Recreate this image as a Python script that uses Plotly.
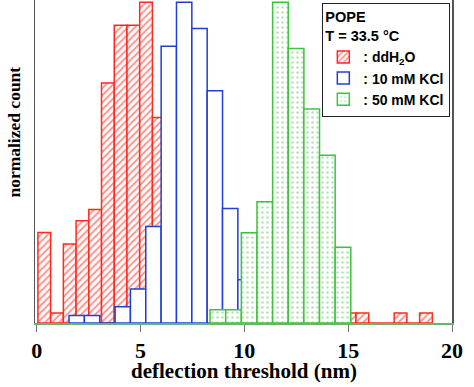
import plotly.graph_objects as go

# ---- data (normalized counts per bin) ----
red_start, red_width = 0.06, 0.6127
red_values = [0.282, 0.031, 0.246, 0.319, 0.354, 0.748, 0.928, 0.928, 1.0, 0.641,
              0.22, 0.06, 0, 0, 0, 0, 0, 0, 0, 0, 0, 0, 0, 0,
              0.031, 0.031, 0, 0, 0.031, 0, 0.031]

blue_start, blue_width = 1.56, 0.739
blue_values = [0.023, 0.023, 0, 0.051, 0.106, 0.301, 0.863, 1.0, 0.918, 0.724, 0.357, 0.135]

green_start, green_width = 8.35, 0.753
green_values = [0.0415, 0.0415, 0.281, 0.378, 1.0, 0.856, 0.667, 0.523, 0.236]

series_names = [": ddH<sub>2</sub>O", ": 10 mM KCl", ": 50 mM KCl"]
x_ticks = [0, 5, 10, 15, 20]

RED = "#ff2a1f"
BLUE = "#1f3fd6"
GREEN = "#3cc43c"


def centers(start, width, n):
    return [start + width * (i + 0.5) for i in range(n)]


fig = go.Figure()

fig.add_trace(go.Bar(
    x=centers(red_start, red_width, len(red_values)), y=red_values, width=red_width,
    name=series_names[0],
    marker=dict(color="white", line=dict(color=RED, width=1.5),
                pattern=dict(shape="/", fgcolor=RED, bgcolor="white", size=5,
                             solidity=0.4, fillmode="overlay")),
))
fig.add_trace(go.Bar(
    x=centers(blue_start, blue_width, len(blue_values)), y=blue_values, width=blue_width,
    name=series_names[1],
    marker=dict(color="white", line=dict(color=BLUE, width=1.5)),
))
fig.add_trace(go.Bar(
    x=centers(green_start, green_width, len(green_values)), y=green_values, width=green_width,
    name=series_names[2],
    marker=dict(color="white", line=dict(color=GREEN, width=1.5),
                pattern=dict(shape=".", fgcolor="#66cc66", bgcolor="white", size=5,
                             solidity=0.2, fillmode="overlay")),
))

fig.update_layout(
    width=474, height=387,
    margin=dict(l=35, r=22, t=0, b=64, autoexpand=False),
    barmode="overlay",
    bargap=0,
    hovermode=False,
    plot_bgcolor="white", paper_bgcolor="white",
    showlegend=True,
    legend=dict(
        x=0.996, y=0.992, xanchor="right", yanchor="top",
        bgcolor="white", bordercolor="#222", borderwidth=1,
        font=dict(family="Liberation Sans", size=14, color="black", weight="bold"),
        title=dict(text="POPE<br>T = 33.5 °C",
                   font=dict(family="Liberation Sans", size=14.5, color="black", weight="bold")),
        tracegroupgap=0, itemwidth=30,
    ),
    xaxis=dict(
        range=[-0.08, 20], tickvals=x_ticks, ticks="outside", ticklen=7,
        tickcolor="#777", tickwidth=1, automargin=False,
        showline=True, linecolor="#6fb06f", linewidth=1.5,
        showgrid=False, zeroline=False,
        tickfont=dict(family="Liberation Serif", size=22, color="black", weight="bold"),
    ),
    yaxis=dict(
        range=[0, 1.007], showticklabels=False, ticks="", showgrid=False, zeroline=False,
        showline=True, mirror=True, linecolor="#555", linewidth=1.5, automargin=False,
    ),
    annotations=[
        dict(text="normalized count", textangle=-90, xref="paper", yref="paper",
             x=-0.05, y=0.59, xanchor="center", yanchor="middle", showarrow=False,
             font=dict(family="Liberation Serif", size=17.5, color="black", weight="bold")),
        dict(text="deflection threshold (nm)", xref="paper", yref="paper",
             x=0.5, y=-0.148, xanchor="center", yanchor="middle", showarrow=False,
             font=dict(family="Liberation Serif", size=21, color="black", weight="bold")),
    ],
)

fig.write_html("out.html", config={"displayModeBar": False, "staticPlot": True},
               post_script="document.body.style.margin='0';document.body.style.overflow='hidden';")
